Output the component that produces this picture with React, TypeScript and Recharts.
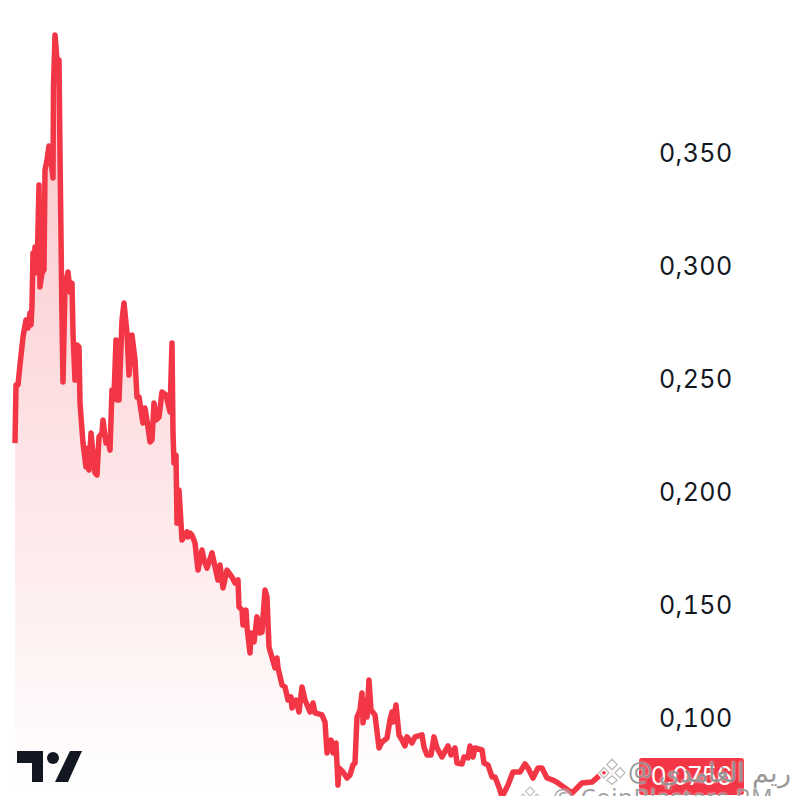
import { ComposedChart, Area, XAxis, YAxis } from "recharts";

const days = [
  15, 16, 18, 20, 23, 26, 28, 30, 31, 32, 33, 34, 35, 37, 39, 40, 42, 44, 45, 47, 49, 51, 53, 53.5, 55, 57, 58, 59, 60,
  62, 63, 65, 68, 70, 72, 73, 75, 77, 79, 80, 83, 86, 88, 89, 91, 95, 97, 99, 102, 103, 106, 108, 110, 112, 114, 116,
  117, 119, 122, 124, 127, 129, 132, 135, 137, 139, 142, 143, 145, 148, 150, 152, 154, 156, 159, 162, 166, 170, 172,
  173, 174, 176, 177, 179, 182, 187, 188, 190, 192, 195, 198, 202, 204, 207, 212, 215, 218, 220, 223, 227, 232, 235,
  238, 239, 242, 243, 246, 247, 250, 251, 254, 257, 260, 262, 265, 267, 269, 275, 277, 278, 282, 285, 288, 291, 292,
  296, 299, 302, 305, 310, 313, 315, 322, 325, 327, 331, 333, 336, 338, 339, 343, 347, 350, 353, 355, 357, 360, 362,
  363, 366, 367, 369, 371, 375, 379, 382, 387, 390, 392, 393, 396, 399, 402, 405, 407, 412, 415, 422, 424, 427, 431,
  434, 437, 442, 448, 451, 455, 457, 462, 464, 468, 470, 473, 475, 482, 484, 488, 492, 495, 500, 502, 504, 508, 513,
  520, 525, 528, 533, 538, 542, 547, 553, 558, 565, 572, 582, 592, 600, 607, 610, 612,
];

const prices = [
  0.2212, 0.2469, 0.2469, 0.2558, 0.2681, 0.2757, 0.2721, 0.2788, 0.2735, 0.2823, 0.3053, 0.2965, 0.308, 0.2965, 0.3354,
  0.2903, 0.2965, 0.2978, 0.342, 0.3465, 0.3527, 0.3465, 0.3385, 0.3788, 0.4018, 0.3907, 0.3819, 0.3907, 0.3496, 0.2757,
  0.2482, 0.2903, 0.2969, 0.288, 0.292, 0.2699, 0.2491, 0.2646, 0.2637, 0.2389, 0.2212, 0.2106, 0.219, 0.2093, 0.2257,
  0.208, 0.2071, 0.2239, 0.2257, 0.2314, 0.2212, 0.2226, 0.2181, 0.2447, 0.2416, 0.2668, 0.2403, 0.2403, 0.2757, 0.2832,
  0.2699, 0.2513, 0.269, 0.258, 0.2416, 0.2416, 0.2327, 0.2301, 0.2367, 0.2283, 0.2217, 0.2226, 0.2389, 0.2314, 0.2327,
  0.2438, 0.2425, 0.235, 0.2655, 0.2257, 0.2124, 0.2159, 0.1858, 0.2004, 0.1783, 0.1819, 0.1797, 0.1814, 0.1805, 0.177,
  0.165, 0.1739, 0.1695, 0.1659, 0.1726, 0.1664, 0.1606, 0.1673, 0.1571, 0.165, 0.1619, 0.1593, 0.1606, 0.1487, 0.1473,
  0.1407, 0.1473, 0.1398, 0.1283, 0.1372, 0.1332, 0.1443, 0.1372, 0.1376, 0.1562, 0.1531, 0.131, 0.1217, 0.1261, 0.1217,
  0.1142, 0.1133, 0.1075, 0.1089, 0.104, 0.1075, 0.1022, 0.1133, 0.1075, 0.1022, 0.1062, 0.1018, 0.1009, 0.0978, 0.0841,
  0.0898, 0.0841, 0.0885, 0.0699, 0.0774, 0.0757, 0.073, 0.0743, 0.0788, 0.0796, 0.1, 0.1031, 0.1106, 0.0974, 0.1075,
  0.1, 0.1164, 0.1031, 0.1009, 0.0863, 0.0889, 0.0907, 0.0987, 0.1022, 0.0978, 0.1053, 0.092, 0.0898, 0.0872, 0.0912,
  0.0885, 0.0912, 0.0921, 0.0867, 0.0832, 0.0832, 0.0912, 0.0863, 0.0823, 0.0872, 0.0832, 0.0863, 0.0796, 0.0792, 0.0823,
  0.0819, 0.0872, 0.0823, 0.0863, 0.0854, 0.0796, 0.0788, 0.0735, 0.0735, 0.0677, 0.0646, 0.0664, 0.0699, 0.0757, 0.0757,
  0.0792, 0.0774, 0.073, 0.0774, 0.0774, 0.073, 0.0721, 0.0708, 0.0686, 0.0664, 0.0708, 0.0712, 0.0743, 0.0761, 0.0743,
  0.0761,
];

const priceTicks = [0.1, 0.15, 0.2, 0.25, 0.3, 0.35];
const lastPriceLabel = "0,0756";
const watermarkName = "@ ريم الغامدي";
const watermarkSource = "© CoinBlasters RM";

const series = days.map((day, i) => ({ day, price: prices[i] }));

const diamondPath = "M12 2l4.5 4.5-4.5 4.5-4.5-4.5zM5 9l4.5 4.5L5 18l-4-4.500zM19 9l4 4.500L19 18l-4.500-4.500zM12 16l4.500 4-4.500 3.500-4.500-3.500z";

function Diamond({ x, y, size }: { x: number; y: number; size: number }) {
  return (
    <svg width={size} height={size} viewBox="0 0 24 24" style={{ position: "absolute", left: x, top: y }}>
      <path d={diamondPath} fill="none" stroke="#fff" strokeWidth="3.5" />
      <path d={diamondPath} fill="none" stroke="rgba(150,150,150,0.6)" strokeWidth="1.2" />
    </svg>
  );
}

export default function App() {
  return (
    <div style={{ position: "absolute", left: 0, top: 0, width: 801, height: 796, overflow: "hidden", background: "#fff" }}>
      <ComposedChart width={801} height={796} data={series} margin={{ top: 0, right: 0, bottom: 0, left: 15 }}>
        <defs>
          <linearGradient id="priceFill" x1="0" y1="0" x2="0" y2="1">
            <stop offset="0%" stopColor="#f23645" stopOpacity={0.3} />
            <stop offset="50%" stopColor="#f23645" stopOpacity={0.15} />
            <stop offset="100%" stopColor="#f23645" stopOpacity={0} />
          </linearGradient>
        </defs>
        <XAxis dataKey="day" type="number" domain={[15, 640]} hide />
        <YAxis
          orientation="right"
          width={161}
          domain={[0.06504, 0.41726]}
          ticks={priceTicks}
          allowDataOverflow
          axisLine={false}
          tickLine={false}
          tickMargin={13}
          tick={{ fontSize: 25, fill: "#131722", fontFamily: "Inter", letterSpacing: 0.4, dy: 1, style: { fontVariantNumeric: "tabular-nums" } }}
          tickFormatter={(val) => val.toFixed(3).replace(".", ",")}
        />
        <Area
          type="linear"
          dataKey="price"
          stroke="#f23645"
          strokeWidth={5.5}
          strokeLinejoin="round"
          fill="url(#priceFill)"
          fillOpacity={1}
          dot={false}
          activeDot={false}
          isAnimationActive={false}
        />
      </ComposedChart>

      {/* TradingView logo */}
      <svg width={66} height={34} viewBox="0 0 66 34" style={{ position: "absolute", left: 17, top: 751 }}>
        <path d="M0 0h26v31H15V12H0z" fill="#131722" />
        <circle cx="36" cy="7" r="6" fill="#131722" />
        <path d="M53 0h12L51 31H38z" fill="#131722" />
      </svg>

      {/* last price tag with the watermark over it */}
      <div style={{ position: "absolute", left: 639, top: 758, width: 105, height: 37, background: "#f23645", borderRadius: 3, color: "#fff", fontFamily: "Inter", fontSize: 25, lineHeight: "37px", textAlign: "center" }}>
        {lastPriceLabel}
      </div>
      <Diamond x={598} y={757} size={28} />
      <div style={{ position: "absolute", left: 628, top: 754, color: "rgba(120,120,120,0.75)", textShadow: "0 0 2px #fff", fontFamily: "Noto Sans", fontSize: 27, lineHeight: "36px", whiteSpace: "nowrap", direction: "ltr" }}>
        {watermarkName}
      </div>
      <Diamond x={518} y={785} size={24} />
      <div style={{ position: "absolute", left: 553, top: 781, color: "rgba(130,130,130,0.75)", textShadow: "0 0 2px #fff", fontFamily: "Noto Sans", fontSize: 24, lineHeight: "32px", letterSpacing: 0.6, whiteSpace: "nowrap" }}>
        {watermarkSource}
      </div>
    </div>
  );
}
